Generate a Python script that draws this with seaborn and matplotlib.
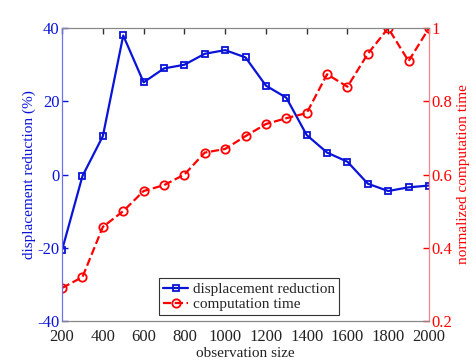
import numpy as np
import pandas as pd

import matplotlib
matplotlib.use("Agg")
import matplotlib.pyplot as plt
import seaborn as sns

sns.set_theme(style="white", context="paper")
plt.rcParams["font.family"] = ["Liberation Serif", "DejaVu Serif"]
plt.rcParams["axes.unicode_minus"] = False

obs_size = [200, 300, 400, 500, 600, 700, 800, 900, 1000, 1100,
            1200, 1300, 1400, 1500, 1600, 1700, 1800, 1900, 2000]
disp_reduction = [-20.6, -0.4, 10.5, 38.0, 25.2, 29.0, 30.0, 33.0, 34.0, 32.0,
                  24.3, 21.0, 10.8, 6.0, 3.5, -2.5, -4.5, -3.5, -3.0]
comp_time = [0.29, 0.32, 0.457, 0.50, 0.555, 0.571, 0.60, 0.66, 0.67, 0.705,
             0.738, 0.754, 0.768, 0.874, 0.84, 0.93, 1.0, 0.91, 1.0]

df = pd.DataFrame({"size": obs_size, "disp": disp_reduction, "time": comp_time})

blue = "#0a14d8"
red = "#ff0000"

fig = plt.figure(figsize=(4.74, 3.61), dpi=100)
ax = fig.add_axes([0.131, 0.111, 0.774, 0.811])
ax2 = ax.twinx()

sns.lineplot(data=df, x="size", y="disp", ax=ax, color=blue, linewidth=1.6,
             marker="s", markersize=5, markerfacecolor="none",
             markeredgecolor=blue, markeredgewidth=1.3,
             label="displacement reduction", legend=False)
sns.lineplot(data=df, x="size", y="time", ax=ax2, color=red, linewidth=1.6,
             linestyle="--", marker="o", markersize=6, markerfacecolor="none",
             markeredgecolor=red, markeredgewidth=1.3,
             label="computation time", legend=False)

ax.set_xlim(200, 2000)
ax.set_ylim(-40, 40)
ax2.set_ylim(0.2, 1.0)
ax.set_xticks(range(200, 2001, 200))
ax.set_yticks([-40, -20, 0, 20, 40])
ax2.set_yticks([0.2, 0.4, 0.6, 0.8, 1.0])
ax2.set_yticklabels(["0.2", "0.4", "0.6", "0.8", "1"])

ax.set_xlabel("observation size", fontsize=11, color="#222222", labelpad=1)
ax.set_ylabel("displacement reduction (%)", fontsize=11, color=blue, labelpad=1)
ax2.set_ylabel("normalized computation time", fontsize=11, color=red, labelpad=3)

ax.tick_params(axis="x", direction="in", top=True, length=4, labelsize=12,
               colors="#333333", labelcolor="#222222", pad=6)
ax.tick_params(axis="y", direction="in", length=4, labelsize=12,
               colors=blue, pad=2)
ax2.tick_params(axis="y", direction="in", length=4, labelsize=12,
                colors=red, pad=2)

for a in (ax, ax2):
    a.spines["top"].set_color("#888888")
    a.spines["bottom"].set_color("#888888")
    a.spines["left"].set_color("#6a70e8")
    a.spines["right"].set_color("#ff8080")
    for s in a.spines.values():
        s.set_linewidth(0.8)

h1, l1 = ax.get_legend_handles_labels()
h2, l2 = ax2.get_legend_handles_labels()
leg = ax2.legend(h1 + h2, l1 + l2, loc="lower left",
                 bbox_to_anchor=(0.255, 0.01), fontsize=11, frameon=True,
                 fancybox=False, framealpha=1, borderpad=0.25,
                 handlelength=1.7, handletextpad=0.3, labelspacing=0.1,
                 borderaxespad=0.2)
leg.get_frame().set_edgecolor("#333333")
leg.get_frame().set_linewidth(0.8)

fig.savefig("out.png", dpi=100)
